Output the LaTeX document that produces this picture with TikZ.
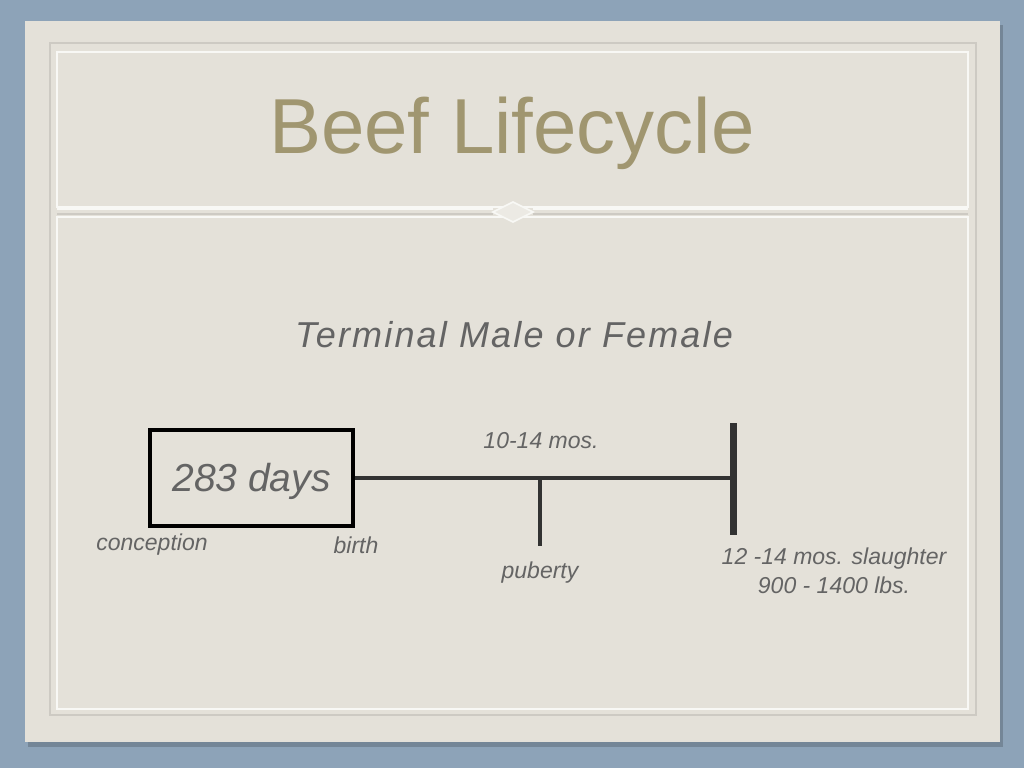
\documentclass[tikz,border=0pt]{standalone}
\usepackage{fontspec}
\setmainfont{Liberation Sans}
\newfontfamily\spacedsans[LetterSpace=6]{Liberation Sans}
\usetikzlibrary{positioning}
\definecolor{slate}{RGB}{141,163,184}
\definecolor{card}{RGB}{228,225,217}
\definecolor{khaki}{RGB}{160,150,112}
\definecolor{inkgray}{RGB}{100,100,100}
\definecolor{rulegray}{RGB}{50,50,50}
\tikzset{
    frame-light/.style = {draw=white!75!card, line width=1.6pt},
    frame-dark/.style = {draw=black!10!card, line width=1.4pt},
    stage-box/.style = {draw=black, line width=4pt, rectangle, minimum width=203pt, minimum height=96pt, inner sep=0pt},
    stage-text/.style = {text=inkgray, font=\itshape\fontsize{39}{42}\selectfont},
    stage-label/.style = {text=inkgray, font=\itshape\fontsize{23}{29}\selectfont, align=center},
    time-line/.style = {draw=rulegray, line width=4pt},
}

\begin{document}
\begin{tikzpicture}[x=1pt, y=-1pt]
\useasboundingbox (0,0) rectangle (1024,768);
\fill[slate] (0,0) rectangle (1024,768);
\fill[black!50!slate, opacity=0.35] (28,25) rectangle (1003,747);
\fill[card] (25,21) rectangle (1000,742);
\draw[frame-dark] (50,43) rectangle (976,715);
\draw[frame-light] (57,52) rectangle (968,207);
\draw[frame-light] (57,217) rectangle (968,709);
\draw[frame-light] (57,209) -- (493,209) (533,209) -- (968,209);
\draw[frame-dark] (57,214) -- (493,214) (533,214) -- (968,214);
\draw[frame-light, fill=white!30!card] (493,212) -- (513,202) -- (533,212) -- (513,222) -- cycle;

\node[text=khaki, font=\fontsize{78}{80}\selectfont] (title) at (512,133) {Beef Lifecycle};
\node[text=inkgray, font=\spacedsans\itshape\fontsize{36}{42}\selectfont] (subtitle) at (514,335) {Terminal Male or Female};

\node[stage-box] (gestation) at (251.5,478) {};
\node[stage-text] (days) at (251.5,481) {283 days};
\coordinate (puberty-mark) at (540,478);
\coordinate (puberty-foot) at (540,546);
\coordinate (end-mark) at (733,478);
\coordinate (end-top) at (733,423);
\coordinate (end-bottom) at (733,535);

\draw[time-line] (gestation.east) -- (end-mark);
\draw[time-line] (puberty-mark) -- (puberty-foot);
\draw[draw=rulegray, line width=7pt] (end-top) -- (end-bottom);

\node[stage-label] (growth) at (541,441) {10-14 mos.};
\node[stage-label] (conception) at (152,545) {conception};
\node[stage-label] (birth) at (356,545) {birth};
\node[stage-label, below=12pt of puberty-foot] (puberty) {puberty};
\node[stage-label] (slaughter) at (834,571) {12 -14 mos. slaughter\\900 - 1400 lbs.};
\end{tikzpicture}
\end{document}
